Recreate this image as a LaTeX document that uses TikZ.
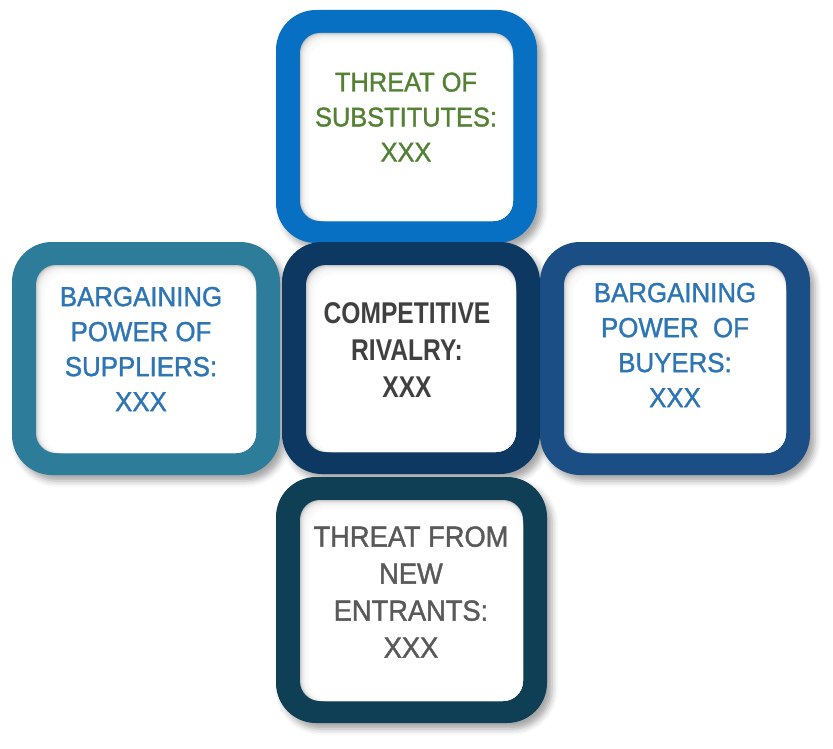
\documentclass[tikz,border=0pt]{standalone}
\usepackage{fontspec}
\setmainfont{Liberation Sans}[FakeStretch=0.94, FakeBold=1.3]
\newfontfamily\rivalfont{Liberation Sans}[FakeStretch=0.82]
\usetikzlibrary{shadows.blur}
\definecolor{subsblue}{RGB}{8,112,194}
\definecolor{supplteal}{RGB}{45,125,154}
\definecolor{rivalnavy}{RGB}{12,56,98}
\definecolor{buyersblue}{RGB}{28,78,134}
\definecolor{entrantsteal}{RGB}{14,63,85}
\definecolor{textgreen}{RGB}{84,130,53}
\definecolor{textblue}{RGB}{46,117,182}
\definecolor{textdark}{RGB}{64,64,64}
\definecolor{textgray}{RGB}{89,89,89}
\begin{document}
\begin{tikzpicture}[x=1pt,y=-1pt,
    outerbox/.style={rounded corners=40pt, blur shadow={shadow xshift=5pt, shadow yshift=-6pt, shadow blur radius=6pt, shadow opacity=35}},
    innerbox/.style={rounded corners=20pt},
    boxtext/.style={align=center, inner sep=0pt}]
  \useasboundingbox (0,0) rectangle (833,749);
  % five frames: top, left, centre, right, bottom
  \foreach \xa/\ya/\xb/\yb/\col in {276/10/537/243/subsblue, 12/242/280/475/supplteal,
      282/242/540/474/rivalnavy, 540/242/810/475/buyersblue, 276/477/547/723/entrantsteal} {
    \fill[outerbox, \col] (\xa,\ya) rectangle (\xb,\yb);
    \fill[innerbox, black!22] (\xa+24,\ya+23) rectangle (\xb-24,\yb-22);
    \foreach \d in {1,...,7}
      \fill[innerbox, white, opacity=0.35] (\xa+24+\d,\ya+23+\d) rectangle (\xb-24,\yb-22);
    \fill[innerbox, white] (\xa+33,\ya+32) rectangle (\xb-25,\yb-23);
  }
  \node[boxtext, textgreen, font=\fontsize{27}{35}\selectfont] (subst) at (406,117) {THREAT OF\\SUBSTITUTES:\\XXX};
  \node[boxtext, textblue, font=\fontsize{27.5}{35}\selectfont] (suppl) at (141,349) {BARGAINING\\POWER OF\\SUPPLIERS:\\XXX};
  \node[boxtext, textdark, font=\rivalfont\bfseries\fontsize{30}{37}\selectfont] (rival) at (407,350) {COMPETITIVE\\RIVALRY:\\XXX};
  \node[boxtext, textblue, font=\fontsize{27.5}{35}\selectfont] (buyers) at (675,345) {BARGAINING\\POWER\ \ OF\\BUYERS:\\XXX};
  \node[boxtext, textgray, font=\fontsize{29}{37}\selectfont] (entrants) at (411,592) {THREAT FROM\\NEW\\ENTRANTS:\\XXX};
\end{tikzpicture}
\end{document}
